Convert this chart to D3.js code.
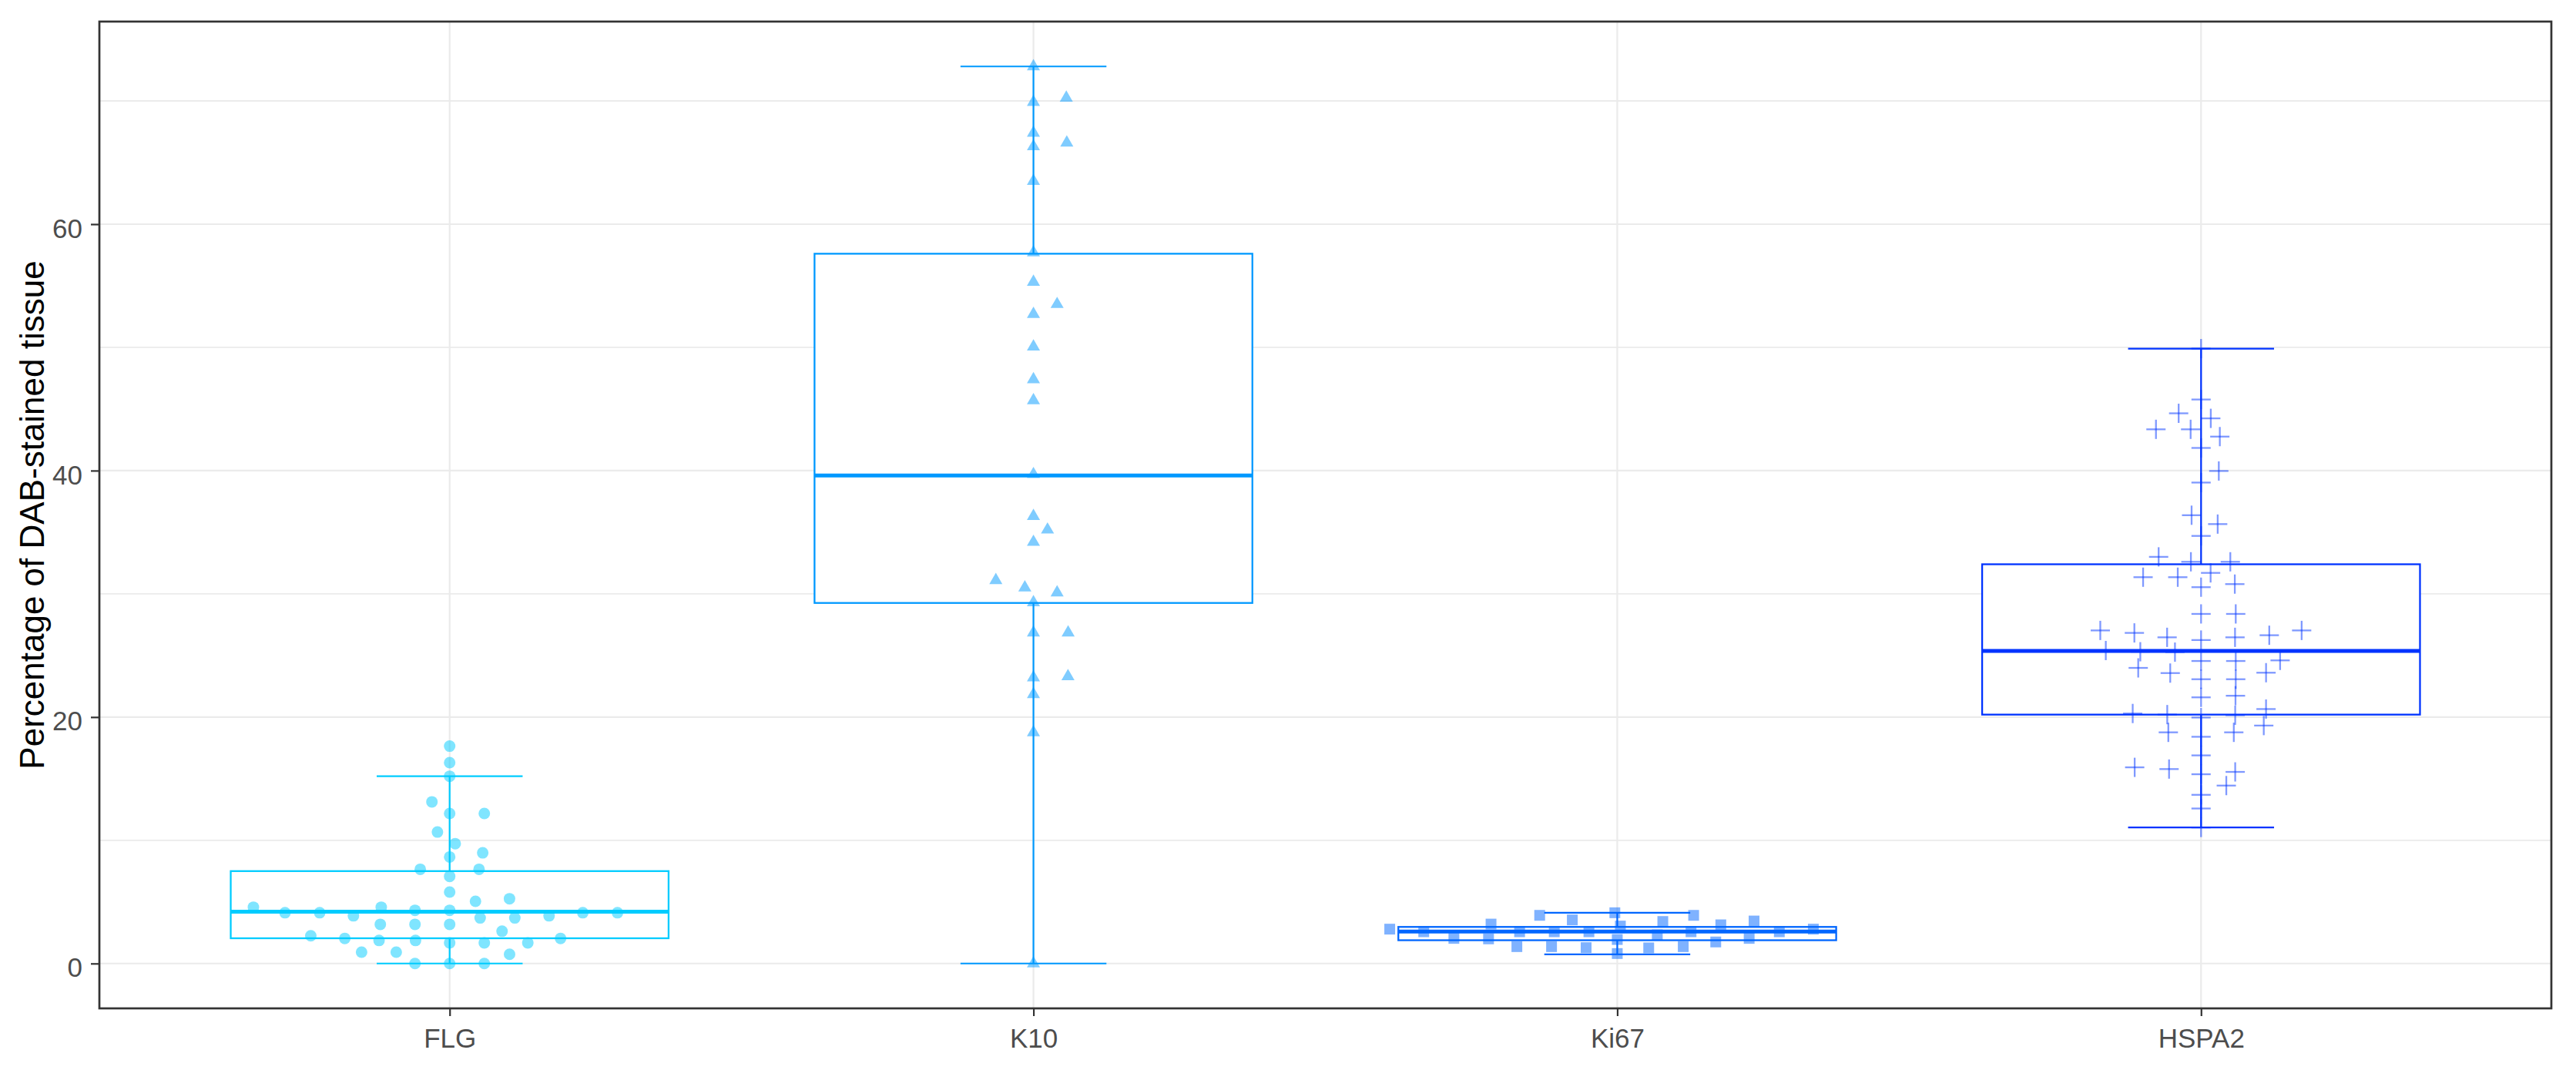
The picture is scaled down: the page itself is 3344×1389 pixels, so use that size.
<!DOCTYPE html>
<html>
<head>
<meta charset="utf-8">
<script src="https://cdn.jsdelivr.net/npm/d3@7"></script>
<style>
  html, body { margin: 0; padding: 0; background: #ffffff; }
  svg { display: block; font-family: "Liberation Sans", Arial, Helvetica, sans-serif; }
</style>
</head>
<body>
<svg id="chart" width="3344" height="1389"></svg>
<script>
// ---------------- data ----------------
const categories = ["FLG", "K10", "Ki67", "HSPA2"];

const flgValues = [17.64, 16.3, 15.2, 13.12, 12.18, 12.18, 10.67, 9.73, 8.65, 8.98,
  7.65, 7.65, 7.07, 5.80, 5.26, 5.05, 4.57, 4.32, 4.12, 3.87, 3.70, 4.12, 4.12, 3.70,
  3.87, 4.12, 4.32, 4.57, 3.18, 3.18, 3.18, 2.62, 2.04, 2.04, 2.25, 1.87, 1.87, 1.68,
  1.68, 1.68, 0.92, 0.92, 0.75, 0, 0, 0];

const k10Values = [72.8, 70.25, 69.9, 67.4, 66.6, 66.3, 63.5, 57.7, 55.3, 53.5, 52.7,
  50.05, 47.4, 45.7, 39.7, 36.3, 35.2, 34.2, 31.1, 30.5, 30.1, 29.3, 26.85, 26.85,
  23.3, 23.2, 21.85, 18.75, 0];

const ki67Values = [3.54, 2.04, 3.41, 2.04, 3.2, 2.79, 2.58, 1.29, 2.79, 1.75, 2.58,
  4.12, 0.81, 3.91, 2.58, 1.37, 3.91, 2.58, 1.37, 2.58, 1.37, 2.58, 1.27, 3.04, 2.33,
  3.14, 2.0, 3.45, 1.95];

const hspa2Values = [49.9, 45.77, 44.65, 44.24, 43.35, 43.35, 42.76, 41.84, 39.97, 39.03,
  36.38, 35.66, 34.7, 33.0, 32.6, 32.6, 31.35, 31.35, 31.7, 30.54, 30.79, 28.37, 28.37,
  27.03, 26.83, 26.47, 26.47, 26.25, 26.64, 27.03, 25.4, 25.3, 25.27, 24.6, 24.55, 24.55,
  23.99, 23.57, 23.6, 23.07, 23.07, 21.73, 21.6, 20.65, 19.96, 20.29, 20.2, 20.15, 19.31,
  18.4, 18.76, 18.76, 16.89, 15.55, 15.78, 15.92, 15.36, 14.44, 13.69, 12.58, 11.04];

// box-plot summaries per category (lower whisker, Q1, median, Q3, upper whisker)
const boxLow    = [0,    0,     0.75, 11.04];
const boxQ1     = [2.05, 29.26, 1.89, 20.2];
const boxMedian = [4.2,  39.6,  2.6,  25.37];
const boxQ3     = [7.5,  57.6,  2.97, 32.4];
const boxHigh   = [15.2, 72.8,  4.12, 49.9];

const yMajorTicks = [0, 20, 40, 60];
const yMinorTicks = [10, 30, 50, 70];
const yTitle = "Percentage of DAB-stained tissue";

const seriesValues = [flgValues, k10Values, ki67Values, hspa2Values];
const seriesColors = ["#00CCFF", "#0099FF", "#0066FF", "#0033FF"];
const seriesShapes = ["circle", "triangle", "square", "cross"];

// ---------------- layout ----------------
const W = 3344, H = 1389;
const panel = { left: 129, right: 3312, top: 28, bottom: 1309 };

const svg = d3.select("#chart");
svg.append("rect").attr("width", W).attr("height", H).attr("fill", "#ffffff");

const x = d3.scalePoint().domain(categories).range([panel.left, panel.right]).padding(0.6);
const step = x.step();

const allVals = seriesValues.flat().concat(boxLow, boxHigh);
const vMin = d3.min(allVals), vMax = d3.max(allVals);
const vPad = (vMax - vMin) * 0.05;
const y = d3.scaleLinear().domain([vMin - vPad, vMax + vPad]).range([panel.bottom, panel.top]);

// ---------------- grid ----------------
const grid = svg.append("g");
grid.selectAll("line.minor").data(yMinorTicks).join("line")
  .attr("x1", panel.left).attr("x2", panel.right)
  .attr("y1", d => y(d)).attr("y2", d => y(d))
  .attr("stroke", "#EBEBEB").attr("stroke-width", 1.8);
grid.selectAll("line.major").data(yMajorTicks).join("line")
  .attr("x1", panel.left).attr("x2", panel.right)
  .attr("y1", d => y(d)).attr("y2", d => y(d))
  .attr("stroke", "#EBEBEB").attr("stroke-width", 2.2);
grid.selectAll("line.vert").data(categories).join("line")
  .attr("x1", d => x(d)).attr("x2", d => x(d))
  .attr("y1", panel.top).attr("y2", panel.bottom)
  .attr("stroke", "#EBEBEB").attr("stroke-width", 2.2);

// ---------------- beeswarm (swarm, ascending priority) ----------------
const swarmDX = 45, swarmDY = 17.5;
function swarmOffsets(values) {
  const order = values.map((v, i) => i).sort((a, b) => values[a] - values[b] || a - b);
  const placed = [];
  const offs = new Array(values.length).fill(0);
  for (const i of order) {
    const py = y(values[i]);
    const cands = [0];
    for (const p of placed) {
      const d = Math.abs(p.y - py);
      if (d < swarmDY) {
        const w = swarmDX * Math.sqrt(1 - (d / swarmDY) ** 2);
        cands.push(p.x + w, p.x - w);
      }
    }
    cands.sort((a, b) => Math.abs(a) - Math.abs(b) || b - a);
    let chosen = cands[cands.length - 1];
    for (const c of cands) {
      let ok = true;
      for (const p of placed) {
        const ex = (c - p.x) / swarmDX, ey = (py - p.y) / swarmDY;
        if (ex * ex + ey * ey < 1 - 1e-6) { ok = false; break; }
      }
      if (ok) { chosen = c; break; }
    }
    placed.push({ x: chosen, y: py });
    offs[i] = chosen;
  }
  return offs;
}

// ---------------- boxes + points ----------------
const boxW = step * 0.75, capW = step * 0.25;
const symbolGen = {
  circle: d3.symbol().type(d3.symbolCircle).size(Math.PI * 7.5 * 7.5),
  triangle: d3.symbol().type(d3.symbolTriangle).size(125),
  square: d3.symbol().type(d3.symbolSquare).size(196)
};

categories.forEach((cat, ci) => {
  const cx = x(cat);
  const col = seriesColors[ci];
  const g = svg.append("g");

  // error bar (whisker line + caps)
  g.append("line").attr("x1", cx).attr("x2", cx)
    .attr("y1", y(boxLow[ci])).attr("y2", y(boxHigh[ci]))
    .attr("stroke", col).attr("stroke-width", 2.2);
  [boxLow[ci], boxHigh[ci]].forEach(v => {
    g.append("line").attr("x1", cx - capW / 2).attr("x2", cx + capW / 2)
      .attr("y1", y(v)).attr("y2", y(v))
      .attr("stroke", col).attr("stroke-width", 2.2);
  });

  // box
  g.append("rect")
    .attr("x", cx - boxW / 2).attr("width", boxW)
    .attr("y", y(boxQ3[ci])).attr("height", y(boxQ1[ci]) - y(boxQ3[ci]))
    .attr("fill", "#ffffff").attr("stroke", col).attr("stroke-width", 2.3);
  g.append("line").attr("x1", cx - boxW / 2).attr("x2", cx + boxW / 2)
    .attr("y1", y(boxMedian[ci])).attr("y2", y(boxMedian[ci]))
    .attr("stroke", col).attr("stroke-width", 5);

  // points
  const vals = seriesValues[ci];
  const offs = swarmOffsets(vals);
  const pts = vals.map((v, i) => ({ v, o: offs[i] }));
  const shape = seriesShapes[ci];
  if (shape === "cross") {
    const a = 12.5;
    const pg = g.selectAll("g.pt").data(pts).join("g")
      .attr("transform", d => `translate(${cx + d.o},${y(d.v)})`);
    pg.append("line").attr("x1", -a).attr("x2", a).attr("y1", 0).attr("y2", 0)
      .attr("stroke", col).attr("stroke-opacity", 0.5).attr("stroke-width", 2.3);
    pg.append("line").attr("x1", 0).attr("x2", 0).attr("y1", -a).attr("y2", a)
      .attr("stroke", col).attr("stroke-opacity", 0.5).attr("stroke-width", 2.3);
  } else {
    g.selectAll("path.pt").data(pts).join("path")
      .attr("transform", d => `translate(${cx + d.o},${y(d.v)})`)
      .attr("d", symbolGen[shape]())
      .attr("fill", col).attr("fill-opacity", 0.5);
  }
});

// ---------------- panel border ----------------
svg.append("rect")
  .attr("x", panel.left).attr("y", panel.top)
  .attr("width", panel.right - panel.left).attr("height", panel.bottom - panel.top)
  .attr("fill", "none").attr("stroke", "#333333").attr("stroke-width", 2.7);

// ---------------- axes ----------------
const yAxis = svg.append("g").attr("transform", `translate(${panel.left},0)`)
  .call(d3.axisLeft(y).tickValues(yMajorTicks).tickSize(11).tickPadding(11).tickFormat(d3.format("d")));
yAxis.select(".domain").remove();
yAxis.selectAll(".tick line").attr("stroke", "#333333").attr("stroke-width", 2.2);
yAxis.selectAll(".tick text").attr("fill", "#4D4D4D").attr("font-size", 35)
  .attr("font-family", "Liberation Sans, Arial, sans-serif").attr("dy", "0.49em");

const xAxis = svg.append("g").attr("transform", `translate(0,${panel.bottom})`)
  .call(d3.axisBottom(x).tickSize(10).tickPadding(0));
xAxis.select(".domain").remove();
xAxis.selectAll(".tick line").attr("stroke", "#333333").attr("stroke-width", 2.2);
xAxis.selectAll(".tick text").attr("fill", "#4D4D4D").attr("font-size", 35)
  .attr("font-family", "Liberation Sans, Arial, sans-serif")
  .attr("y", 51).attr("dy", 0);

// y title
svg.append("text")
  .attr("transform", `translate(57,${(panel.top + panel.bottom) / 2}) rotate(-90)`)
  .attr("text-anchor", "middle")
  .attr("font-size", 44).attr("fill", "#000000")
  .text(yTitle);
</script>
</body>
</html>
